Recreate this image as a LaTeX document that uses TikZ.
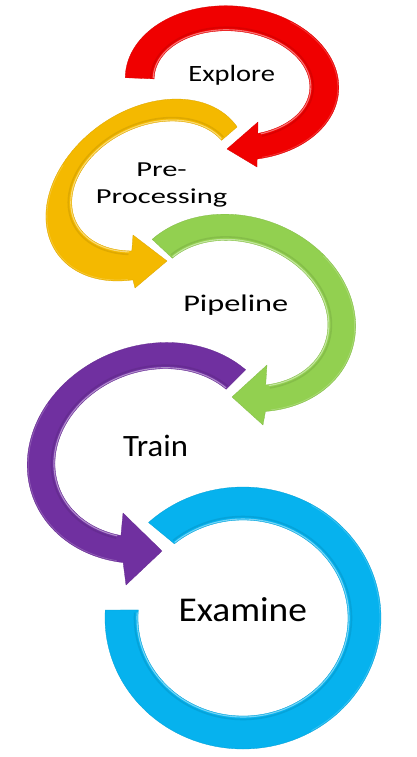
\documentclass[tikz,border=0pt]{standalone}
\usepackage{fontspec}
\setmainfont{Carlito}
\definecolor{cRed}{RGB}{240,0,0}
\definecolor{cOrange}{RGB}{244,185,0}
\definecolor{cGreen}{RGB}{146,208,80}
\definecolor{cPurple}{RGB}{112,48,160}
\definecolor{cBlue}{RGB}{6,178,238}
\begin{document}
\begin{tikzpicture}[x=1pt,y=-1pt,
  declare function={
    ex(\qx,\qy,\qp,\qa,\qb,\qt)=\qx+\qa*cos(\qt)*cos(\qp)-\qb*sin(\qt)*sin(\qp);
    ey(\qx,\qy,\qp,\qa,\qb,\qt)=\qy+\qa*cos(\qt)*sin(\qp)+\qb*sin(\qt)*cos(\qp);},
  ring/.style={fill=#1, draw=#1!90!black, line width=0.3pt, line join=round},
  hl/.style={draw=#1!55!white, line width=1.1pt, line cap=round},
  sh/.style={draw=#1!70!black, line width=1.6pt, opacity=0.28},
  rim/.style={draw=#1!65!white, line width=0.8pt, opacity=0.6},
  lbl/.style={text=black, inner sep=0pt, transform shape, anchor=base}]
\fill[white] (0,0) rectangle (417,757);
\useasboundingbox (0,0) rectangle (417,757);

% ---------- Red ring (Explore)
\path[ring=cRed] plot[domain=177:432.8, samples=120, variable=\t] ({ex(232,83,5,107,77,\t)},{ey(232,83,5,107,77,\t)})
  -- (257,167) -- (227,149) -- (258,122)
  -- plot[domain=427.3:177, samples=120, variable=\t] ({ex(232,83,5,78,52,\t)},{ey(232,83,5,78,52,\t)}) -- cycle;
\draw[hl=cRed] plot[domain=178:425, samples=100, variable=\t] ({ex(232,83,5,79,53,\t)},{ey(232,83,5,79,53,\t)});
\draw[sh=cRed] plot[domain=178:425, samples=100, variable=\t] ({ex(232,83,5,81.5,55.5,\t)},{ey(232,83,5,81.5,55.5,\t)});
\draw[rim=cRed] plot[domain=300:430, samples=80, variable=\t] ({ex(232,83,5,106,76,\t)},{ey(232,83,5,106,76,\t)});

% ---------- Orange ring (Pre-Processing)
\path[ring=cOrange] plot[domain=0:-235, samples=120, variable=\t] ({ex(147,190,-35,110,80,\t)},{ey(147,190,-35,110,80,\t)})
  -- (135,288) -- (167,261) -- (133,235)
  -- plot[domain=-237:-11.5, samples=120, variable=\t] ({ex(152,186,-25,84,60,\t)},{ey(152,186,-25,84,60,\t)}) -- cycle;
\draw[hl=cOrange] plot[domain=-13:-235, samples=100, variable=\t] ({ex(152,186,-25,85,61,\t)},{ey(152,186,-25,85,61,\t)});
\draw[sh=cOrange] plot[domain=-13:-235, samples=100, variable=\t] ({ex(152,186,-25,87.5,63.5,\t)},{ey(152,186,-25,87.5,63.5,\t)});
\draw[rim=cOrange] plot[domain=-120:-232, samples=80, variable=\t] ({ex(147,190,-35,109,79,\t)},{ey(147,190,-35,109,79,\t)});

% ---------- Green ring (Pipeline)
\path[ring=cGreen] plot[domain=204.1:420.8, samples=120, variable=\t] ({ex(240,313,20,118,96,\t)},{ey(240,313,20,118,96,\t)})
  -- (263,425) -- (232,397) -- (267,365)
  -- plot[domain=417.2:203.9, samples=120, variable=\t] ({ex(240,313,20,90,70,\t)},{ey(240,313,20,90,70,\t)}) -- cycle;
\draw[hl=cGreen] plot[domain=205:415, samples=100, variable=\t] ({ex(240,313,20,91,71,\t)},{ey(240,313,20,91,71,\t)});
\draw[sh=cGreen] plot[domain=205:415, samples=100, variable=\t] ({ex(240,313,20,93.5,73.5,\t)},{ey(240,313,20,93.5,73.5,\t)});
\draw[rim=cGreen] plot[domain=300:418, samples=80, variable=\t] ({ex(240,313,20,117,95,\t)},{ey(240,313,20,117,95,\t)});

% ---------- Purple ring (Train)
\path[ring=cPurple] plot[domain=-25.5:-239.2, samples=120, variable=\t] ({ex(153,453,-20,128,108,\t)},{ey(153,453,-20,128,108,\t)})
  -- (126,585) -- (162,551) -- (123,513)
  -- plot[domain=-234.3:-25.2, samples=120, variable=\t] ({ex(153,453,-20,100,82,\t)},{ey(153,453,-20,100,82,\t)}) -- cycle;
\draw[hl=cPurple] plot[domain=-26:-232, samples=100, variable=\t] ({ex(153,453,-20,101,83,\t)},{ey(153,453,-20,101,83,\t)});
\draw[sh=cPurple] plot[domain=-26:-232, samples=100, variable=\t] ({ex(153,453,-20,103.5,85.5,\t)},{ey(153,453,-20,103.5,85.5,\t)});
\draw[rim=cPurple] plot[domain=-130:-236, samples=80, variable=\t] ({ex(153,453,-20,127,107,\t)},{ey(153,453,-20,127,107,\t)});

% ---------- Blue ring (Examine)
\path[ring=cBlue] plot[domain=226.8:543.5, samples=150, variable=\t] ({ex(243,618,0,138,131,\t)},{ey(243,618,0,138,131,\t)})
  -- plot[domain=544.7:229.2, samples=150, variable=\t] ({ex(243,618,0,105,98,\t)},{ey(243,618,0,105,98,\t)}) -- cycle;
\draw[hl=cBlue] plot[domain=230:543, samples=120, variable=\t] ({ex(243,618,0,106,99,\t)},{ey(243,618,0,106,99,\t)});
\draw[sh=cBlue] plot[domain=230:543, samples=120, variable=\t] ({ex(243,618,0,108.5,101.5,\t)},{ey(243,618,0,108.5,101.5,\t)});
\draw[rim=cBlue] plot[domain=300:420, samples=80, variable=\t] ({ex(243,618,0,137,130,\t)},{ey(243,618,0,137,130,\t)});

% ---------- Labels
\begin{scope}[shift={(231.7,81.7)}, yscale=0.82]
  \node[lbl, font=\fontsize{28.5}{34}\selectfont] (explore) at (0,0) {Explore};
\end{scope}
\begin{scope}[shift={(161.5,203.3)}, yscale=0.70]
  \node[lbl, align=center, font=\fontsize{30.5}{38}\selectfont] (preproc) at (0,0) {Pre-\\Processing};
\end{scope}
\begin{scope}[shift={(235.8,311.7)}, yscale=0.74]
  \node[lbl, font=\fontsize{32.3}{38}\selectfont] (pipeline) at (0,0) {Pipeline};
\end{scope}
\begin{scope}[shift={(155.5,456)}, yscale=0.95]
  \node[lbl, font=\fontsize{32.7}{38}\selectfont] (train) at (0,0) {Train};
\end{scope}
\begin{scope}[shift={(242.8,621.7)}, yscale=0.93]
  \node[lbl, font=\fontsize{37.4}{44}\selectfont] (examine) at (0,0) {Examine};
\end{scope}
\end{tikzpicture}
\end{document}
